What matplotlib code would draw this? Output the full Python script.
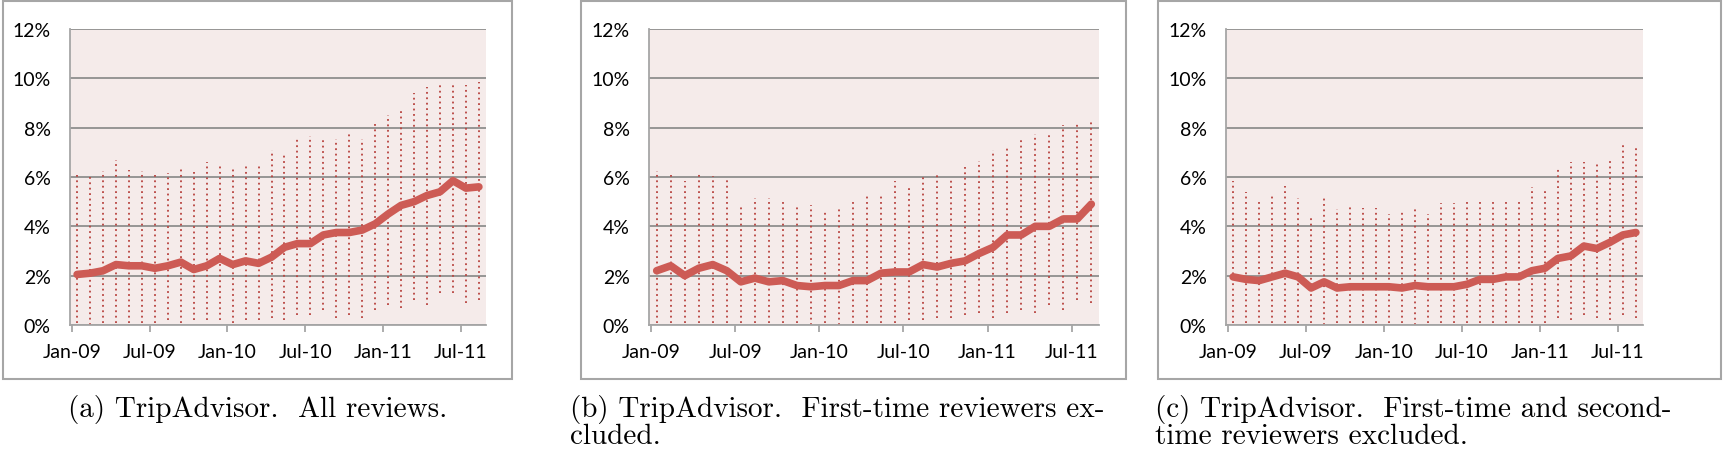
import numpy as np
import matplotlib
matplotlib.use("Agg")
import matplotlib.pyplot as plt
from matplotlib.patches import Rectangle

# monthly points Jan-09 .. Aug-11
TICK_LABELS = ["Jan-09", "Jul-09", "Jan-10", "Jul-10", "Jan-11", "Jul-11"]

MEAN_A = [2.05, 2.1, 2.2, 2.45, 2.4, 2.4, 2.3, 2.4, 2.55, 2.25, 2.4, 2.7, 2.45, 2.6, 2.5, 2.75,
          3.15, 3.3, 3.3, 3.65, 3.75, 3.75, 3.85, 4.1, 4.5, 4.85, 5.0, 5.25, 5.4, 5.85, 5.55, 5.6]
UPPER_A = [6.1, 6.0, 6.25, 6.7, 6.3, 6.25, 6.1, 6.15, 6.45, 6.2, 6.6, 6.55, 6.4, 6.45, 6.45, 7.1,
           6.95, 7.55, 7.65, 7.55, 7.55, 7.8, 7.55, 8.25, 8.5, 8.7, 9.4, 9.65, 9.85, 9.8, 9.75, 9.85]
LOWER_A = [0.1, 0.0, 0.1, 0.1, 0.1, 0.1, 0.1, 0.2, 0.1, 0.2, 0.2, 0.2, 0.1, 0.2, 0.2, 0.3,
           0.2, 0.4, 0.4, 0.6, 0.3, 0.4, 0.3, 0.6, 0.8, 0.7, 1.0, 0.8, 1.3, 1.3, 0.9, 1.0]

MEAN_B = [2.2, 2.4, 2.0, 2.3, 2.45, 2.2, 1.75, 1.9, 1.75, 1.8, 1.6, 1.55, 1.6, 1.6, 1.8, 1.8,
          2.1, 2.15, 2.15, 2.45, 2.35, 2.5, 2.6, 2.9, 3.15, 3.65, 3.65, 4.0, 4.0, 4.3, 4.3, 4.9]
UPPER_B = [6.25, 6.1, 5.85, 6.2, 6.05, 6.0, 4.85, 5.15, 5.15, 5.05, 4.9, 4.85, 4.65, 4.75, 5.1, 5.3,
           5.35, 5.85, 5.6, 6.05, 6.1, 5.95, 6.4, 6.65, 7.1, 7.25, 7.6, 7.75, 7.75, 8.1, 8.15, 8.25]
LOWER_B = [0.1, 0.1, 0.1, 0.1, 0.1, 0.1, 0.1, 0.1, 0.1, 0.1, 0.1, 0.0, 0.1, 0.0, 0.1, 0.1,
           0.1, 0.1, 0.2, 0.2, 0.3, 0.3, 0.4, 0.5, 0.3, 0.5, 0.6, 0.5, 0.8, 0.6, 1.0, 0.9]

MEAN_C = [1.95, 1.85, 1.8, 1.95, 2.1, 1.95, 1.5, 1.75, 1.5, 1.55, 1.55, 1.55, 1.55, 1.5, 1.6, 1.55,
          1.55, 1.55, 1.65, 1.85, 1.85, 1.95, 1.95, 2.2, 2.3, 2.7, 2.8, 3.2, 3.1, 3.35, 3.65, 3.75]
UPPER_C = [5.85, 5.4, 5.0, 5.35, 5.65, 5.15, 4.35, 5.15, 4.7, 4.85, 4.75, 4.75, 4.5, 4.65, 4.75, 4.5,
           4.95, 4.95, 5.1, 5.0, 5.05, 5.0, 5.0, 5.6, 5.5, 6.35, 6.6, 6.6, 6.6, 6.7, 7.35, 7.3]
LOWER_C = [0.1, 0.1, 0.1, 0.1, 0.1, 0.1, 0.1, 0.0, 0.1, 0.1, 0.1, 0.1, 0.1, 0.1, 0.0, 0.1,
           0.1, 0.1, 0.1, 0.1, 0.1, 0.1, 0.1, 0.1, 0.1, 0.3, 0.2, 0.4, 0.3, 0.2, 0.4, 0.3]

CAPTIONS = [
    ["(a) TripAdvisor.  All reviews."],
    ["(b) TripAdvisor.  First-time reviewers ex-", "cluded."],
    ["(c) TripAdvisor.  First-time and second-", "time reviewers excluded."],
]

W, H = 1725, 452
LINE = "#CD5B55"
ERR = "#B8433F"
BG = "#F5EBEA"
GRID = "#8E8E8E"

fig = plt.figure(figsize=(W / 100, H / 100), dpi=100)

# (box left, box right, plot left, plot right, caption x, caption align)
layout = [
    (3, 512, 70, 486, 258, "center"),
    (581, 1126, 649, 1099, 570, "left"),
    (1158, 1721, 1226, 1643, 1155, "left"),
]
top, bottom, box_top, box_bot = 30, 326, 2, 380

panels = [(MEAN_A, UPPER_A, LOWER_A), (MEAN_B, UPPER_B, LOWER_B), (MEAN_C, UPPER_C, LOWER_C)]

for (bl, br, pl, pr, cx, ca), (mean, up, lo), cap in zip(layout, panels, CAPTIONS):
    fig.patches.append(Rectangle((bl / W, 1 - box_bot / H), (br - bl) / W, (box_bot - box_top) / H,
                                 transform=fig.transFigure, fill=False, ec="#A6A6A6", lw=1.5))
    ax = fig.add_axes([pl / W, 1 - bottom / H, (pr - pl) / W, (bottom - top) / H])
    ax.set_facecolor(BG)
    x = np.arange(len(mean))
    ax.vlines(x, lo, up, colors=ERR, linestyles=(0, (1, 2)), lw=1.3, zorder=2)
    ax.plot(x, mean, color=LINE, lw=5.5, solid_joinstyle="round", solid_capstyle="round", zorder=3)
    ax.set_xlim(-0.55, len(mean) - 0.45)
    ax.set_ylim(0, 12)
    ax.set_yticks(range(0, 13, 2))
    ax.set_yticklabels([f"{v}%" for v in range(0, 13, 2)], fontfamily="Lato", fontsize=14)
    ax.yaxis.grid(True, color=GRID, lw=1.3, zorder=1)
    ax.set_axisbelow(True)
    ax.set_xticks(np.arange(len(TICK_LABELS)) * 6 - 0.4)
    ax.set_xticklabels(TICK_LABELS, fontfamily="Lato", fontsize=14)
    ax.tick_params(axis="y", length=0, pad=14)
    ax.tick_params(axis="x", length=5, color="#A6A6A6", width=1.3, pad=8)
    for s in ["top", "right"]:
        ax.spines[s].set_visible(False)
    for s in ["left", "bottom"]:
        ax.spines[s].set_color("#A6A6A6")
        ax.spines[s].set_linewidth(1.3)
    for i, line in enumerate(cap):
        fig.text(cx / W, 1 - (410 + 27 * i) / H, line, ha=ca, va="center",
                 fontfamily="cmr10", fontsize=21)

fig.savefig("out.png", dpi=100)
